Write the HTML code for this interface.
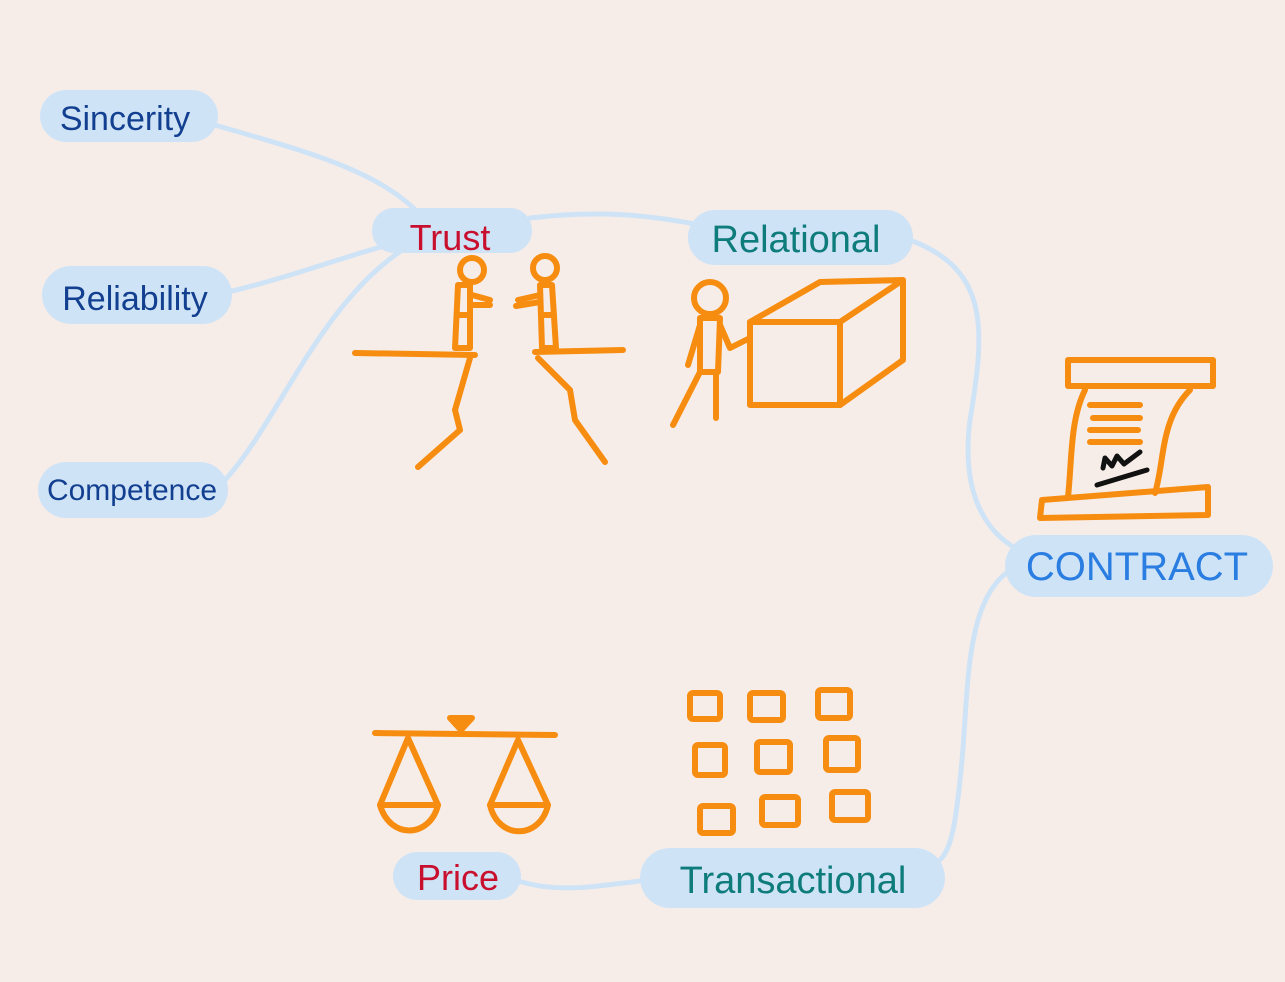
<!DOCTYPE html>
<html><head><meta charset="utf-8"><style>
html,body{margin:0;padding:0;background:#f7ede8;}
svg{display:block}
text{font-family:"Liberation Sans",sans-serif;}
</style></head><body>
<svg width="1285" height="982" viewBox="0 0 1285 982" xmlns="http://www.w3.org/2000/svg">
<rect width="1285" height="982" fill="#f7ede8"/>
<!-- connectors -->
<g fill="none" stroke="#cfe3f7" stroke-width="5" stroke-linecap="round">
<path d="M215 125 C300 150 380 170 420 215"/>
<path d="M228 292 C300 275 360 250 410 240"/>
<path d="M225 480 C280 420 320 300 410 245"/>
<path d="M530 218 C600 210 650 215 700 225"/>
<path d="M910 240 C990 270 985 330 970 420 C960 500 990 540 1030 555"/>
<path d="M1020 565 C960 590 970 700 960 780 C955 830 950 850 940 860"/>
<path d="M515 880 C560 895 600 885 650 880"/>
</g>
<!-- pills -->
<g fill="#cfe3f7">
<rect x="40" y="90" width="178" height="52" rx="26"/>
<rect x="42" y="266" width="190" height="58" rx="29"/>
<rect x="38" y="462" width="190" height="56" rx="28"/>
<rect x="372" y="208" width="160" height="45" rx="22"/>
<rect x="688" y="210" width="225" height="55" rx="27"/>
<rect x="1005" y="535" width="268" height="62" rx="31"/>
<rect x="393" y="852" width="128" height="48" rx="24"/>
<rect x="640" y="848" width="305" height="60" rx="30"/>
</g>
<!-- labels -->
<g font-size="36" text-anchor="middle">
<text x="125" y="130" fill="#123f8f" font-size="34">Sincerity</text>
<text x="135" y="310" fill="#123f8f" font-size="34">Reliability</text>
<text x="132" y="500" fill="#123f8f" font-size="30">Competence</text>
<text x="450" y="250" fill="#c8102e">Trust</text>
<text x="796" y="252" fill="#0e7c7b" font-size="38">Relational</text>
<text x="1137" y="580" fill="#2a7de1" font-size="40">CONTRACT</text>
<text x="458" y="890" fill="#c8102e">Price</text>
<text x="793" y="893" fill="#0e7c7b" font-size="38">Transactional</text>
</g>
<!-- orange sketches -->
<g fill="none" stroke="#f78d10" stroke-width="6" stroke-linecap="round" stroke-linejoin="round">
<!-- trust figures -->
<path d="M355 353 L475 355"/><path d="M535 352 L623 350"/>
<path d="M470 358 L455 410 L460 430 L418 467"/>
<path d="M538 358 L570 390 L575 420 L605 462"/>
<circle cx="472" cy="270" r="12"/>
<path d="M458 285 L470 285 L470 348 L455 348 Z"/><path d="M458 315 L470 315"/>
<path d="M472 295 L490 300 M472 305 L490 305"/>
<circle cx="545" cy="268" r="12"/>
<path d="M540 285 L552 285 L556 348 L542 348 Z"/><path d="M542 315 L554 315"/>
<path d="M540 295 L518 300 M540 302 L516 306"/>
<!-- person box -->
<circle cx="710" cy="298" r="16"/>
<path d="M700 318 L720 318 L718 372 L700 372 Z"/>
<path d="M700 325 L688 365 M720 325 L730 348 L750 338"/>
<path d="M700 372 L673 425 M716 372 L716 418"/>
<path d="M750 322 L840 322 L840 405 L750 405 Z"/>
<path d="M750 322 L820 282 L903 280 L840 322 M903 280 L903 360 L840 405"/>
<!-- contract -->
<path d="M1068 360 L1213 360 L1213 386 L1068 386 Z"/>
<path d="M1085 390 C1070 420 1072 460 1068 497 M1190 390 C1160 420 1165 460 1155 493"/>
<path d="M1042 500 L1208 487 L1208 515 L1040 518 Z"/>
<path d="M1090 405 L1140 405 M1093 418 L1140 418 M1090 430 L1138 430 M1090 442 L1140 442"/>
<!-- scales -->
<path d="M375 733 L555 735"/>
<path d="M450 718 L472 718 L461 730 Z" fill="#f78d10"/>
<path d="M408 738 L380 805 C390 840 430 838 438 805 L408 738"/>
<path d="M380 805 L438 805"/>
<path d="M518 740 L490 805 C498 840 540 840 548 805 L518 740"/>
<path d="M490 805 L548 805"/>
<!-- grid -->
<rect x="690" y="693" width="30" height="26" rx="3"/><rect x="750" y="693" width="33" height="27" rx="3"/><rect x="818" y="690" width="32" height="28" rx="3"/>
<rect x="695" y="745" width="30" height="30" rx="3"/><rect x="757" y="742" width="33" height="30" rx="3"/><rect x="826" y="738" width="32" height="32" rx="3"/>
<rect x="700" y="806" width="33" height="27" rx="3"/><rect x="762" y="797" width="36" height="28" rx="3"/><rect x="832" y="792" width="36" height="28" rx="3"/>
</g>
<g fill="none" stroke="#111" stroke-width="5" stroke-linecap="round" stroke-linejoin="round">
<path d="M1103 468 L1105 458 L1112 466 L1117 456 L1124 464 L1140 452"/>
<path d="M1097 485 L1147 470"/>
</g>
</svg>
</body></html>
